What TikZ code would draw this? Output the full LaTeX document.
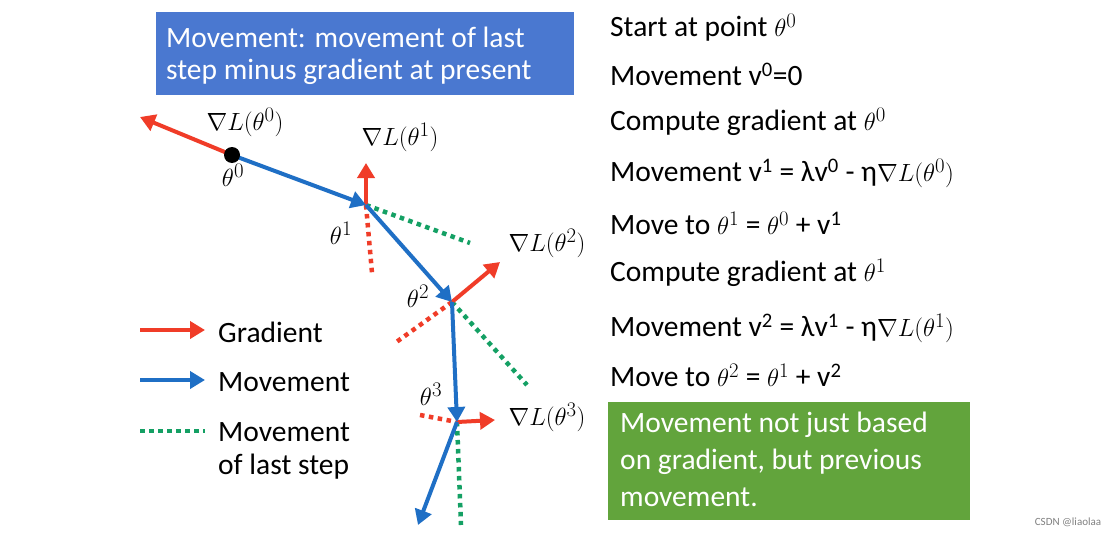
\documentclass[tikz,border=0pt]{standalone}
\usepackage{fontspec}
\setmainfont{Carlito}
\usetikzlibrary{arrows.meta}
\definecolor{gr}{HTML}{F03C28}
\definecolor{bl}{HTML}{1F6FC5}
\definecolor{gn}{HTML}{14A064}
\definecolor{boxb}{HTML}{4A78D0}
\definecolor{boxg}{HTML}{62A43C}
\tikzset{
 grad/.style={gr,line width=4pt,-{Triangle[length=15pt,width=17pt]}},
 mov/.style={bl,line width=4pt,-{Triangle[length=15pt,width=17pt]}},
 gdot/.style={gr,line width=4.5pt,dash pattern=on 4.5pt off 4.5pt},
 ndot/.style={gn,line width=4.5pt,dash pattern=on 4.5pt off 4.5pt},
 lbl/.style={font=\fontsize{29.5}{34}\selectfont,inner sep=0pt},
 mlb/.style={font=\fontsize{32}{36}\selectfont,inner sep=0pt},
 txt/.style={font=\fontsize{29.5}{34}\selectfont,anchor=west,inner sep=0pt}
}
\begin{document}
\begin{tikzpicture}[x=1pt,y=-1pt]
\useasboundingbox (0,0) rectangle (1111,535);
\fill[white] (0,0) rectangle (1111,535);
% boxes
\node[fill=boxb,minimum width=418pt,minimum height=83pt,anchor=north west,inner sep=0pt] (bb) at (156,12) {};
\node[lbl,text=white,anchor=west] (bt1) at (166,37) {Movement: movement of last};
\node[lbl,text=white,anchor=west] (bt2) at (166,72) {step minus gradient at present};
\node[fill=boxg,minimum width=362pt,minimum height=118pt,anchor=north west,inner sep=0pt] (gb) at (608,402) {};
\node[lbl,text=white,anchor=west] (gt1) at (620,425) {Movement not just based};
\node[lbl,text=white,anchor=west] (gt2) at (620,462) {on gradient, but previous};
\node[lbl,text=white,anchor=west] (gt3) at (620,497) {movement.};
% points
\coordinate (t0) at (232,155);
\coordinate (t1) at (366,205);
\coordinate (t2) at (452,302);
\coordinate (t3) at (457,422);
\coordinate (g0) at (140,117);
\coordinate (g1) at (366,163);
\coordinate (g2) at (500,262);
\coordinate (g3) at (495,420);
\coordinate (d1) at (372,273);
\coordinate (n1) at (470,243);
\coordinate (d2) at (395,343);
\coordinate (n2) at (527,385);
\coordinate (d3) at (420,415);
\coordinate (n3) at (461,525);
\coordinate (e4) at (418,525);
\draw[gdot] (t1) -- (d1);
\draw[ndot] (t1) -- (n1);
\draw[gdot] (t2) -- (d2);
\draw[ndot] (t2) -- (n2);
\draw[gdot] (d3) -- (t3);
\draw[ndot] (t3) -- (n3);
\draw[grad] (t0) -- (g0);
\draw[grad] (t1) -- (g1);
\draw[grad] (t2) -- (g2);
\draw[grad] (t3) -- (g3);
\draw[mov] (t0) -- (t1);
\draw[mov] (t1) -- (t2);
\draw[mov] (t2) -- (t3);
\draw[mov] (t3) -- (e4);
\fill[black] (t0) circle (8pt);
% labels
\node[mlb] (l0) at (245,122) {$\nabla L(\theta^0)$};
\node[mlb] (l1) at (400,137) {$\nabla L(\theta^1)$};
\node[mlb] (l2) at (547,243) {$\nabla L(\theta^2)$};
\node[mlb] (l3) at (547,417) {$\nabla L(\theta^3)$};
\node[mlb] (a0) at (233,175) {$\theta^0$};
\node[mlb] (a1) at (341,233) {$\theta^1$};
\node[mlb] (a2) at (418,296) {$\theta^2$};
\node[mlb] (a3) at (431,394) {$\theta^3$};
% legend
\coordinate (la) at (140,330); \coordinate (lb) at (205,330);
\draw[grad] (la) -- (lb);
\node[txt] (lg) at (218,332) {Gradient};
\coordinate (ma) at (140,380); \coordinate (mb) at (205,380);
\draw[mov] (ma) -- (mb);
\node[txt] (lm) at (218,382) {Movement};
\coordinate (na) at (140,431); \coordinate (nb) at (205,431);
\draw[ndot] (na) -- (nb);
\node[txt] (ln1) at (218,432) {Movement};
\node[txt] (ln2) at (218,467) {of last step};
% right text
\node[txt] (r1) at (610,28) {Start at point $\theta^0$};
\node[txt] (r2) at (610,74) {Movement v\textsuperscript{0}=0};
\node[txt] (r3) at (610,122) {Compute gradient at $\theta^0$};
\node[txt] (r4) at (610,173) {Movement v\textsuperscript{1} = λv\textsuperscript{0} - η$\nabla L(\theta^0)$};
\node[txt] (r5) at (610,223) {Move to $\theta^1$ = $\theta^0$ + v\textsuperscript{1}};
\node[txt] (r6) at (610,273) {Compute gradient at $\theta^1$};
\node[txt] (r7) at (610,328) {Movement v\textsuperscript{2} = λv\textsuperscript{1} - η$\nabla L(\theta^1)$};
\node[txt] (r8) at (610,375) {Move to $\theta^2$ = $\theta^1$ + v\textsuperscript{2}};
\node[font=\fontsize{11}{13}\selectfont,text=gray,inner sep=0pt] (wm) at (1068,522) {CSDN @liaolaa};
\end{tikzpicture}
\end{document}
